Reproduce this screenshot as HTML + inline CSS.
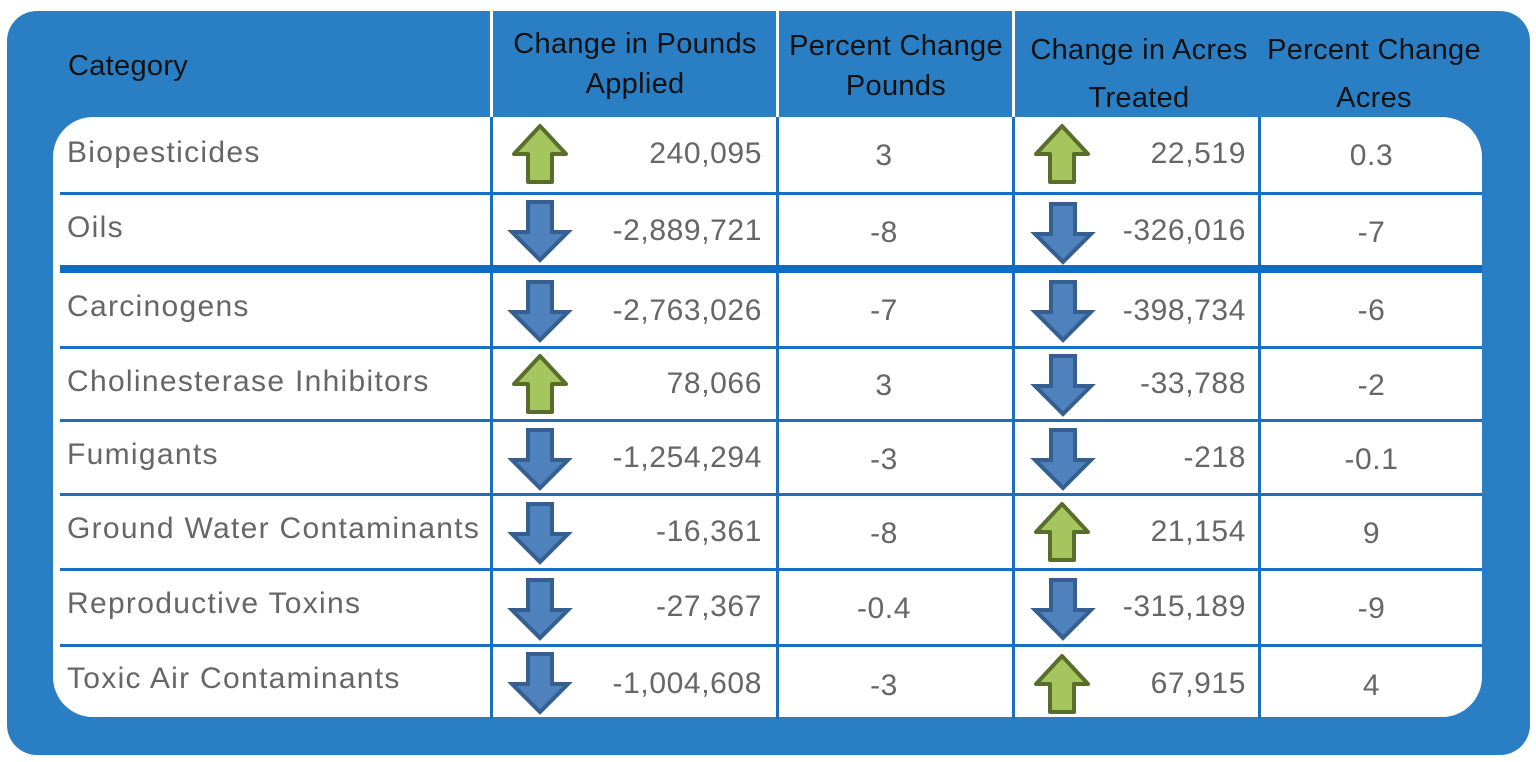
<!DOCTYPE html>
<html><head><style>
body{margin:0;width:1536px;height:762px;background:#fff;position:relative;overflow:hidden;font-family:"Liberation Sans",sans-serif}
.outer{position:absolute;left:7px;top:11px;width:1523px;height:744px;background:#2a7fc4;border-radius:30px}
.inner{position:absolute;left:53px;top:117px;width:1429px;height:600px;background:#fff;border-radius:40px}
.t{position:absolute;font-size:30px;color:#666;white-space:nowrap;line-height:1;letter-spacing:0.6px}
.c{letter-spacing:1.3px}
.h{position:absolute;font-size:29px;color:#111;white-space:nowrap;line-height:1;text-align:center;letter-spacing:0.3px}
.v{position:absolute;width:3px}
.hl{position:absolute;left:60px;width:1422px;height:3px;background:#1a6fc0}
</style></head><body>
<div class="outer"></div>
<div class="inner"></div>
<div class="v" style="left:490px;top:11px;height:106px;background:#fff"></div>
<div class="v" style="left:776px;top:11px;height:106px;background:#fff"></div>
<div class="v" style="left:1012px;top:11px;height:106px;background:#fff"></div>
<div class="v" style="left:490px;top:117px;height:602px;background:#1a6fc0"></div>
<div class="v" style="left:776px;top:117px;height:602px;background:#1a6fc0"></div>
<div class="v" style="left:1012px;top:117px;height:602px;background:#1a6fc0"></div>
<div class="v" style="left:1258px;top:117px;height:602px;background:#1a6fc0"></div>
<div class="hl" style="top:192px"></div>
<div class="hl" style="top:265px;height:8px;background:#0f6cbf"></div>
<div class="hl" style="top:346px"></div>
<div class="hl" style="top:419px"></div>
<div class="hl" style="top:493px"></div>
<div class="hl" style="top:568px"></div>
<div class="hl" style="top:644px"></div>

<div class="h" style="left:68px;top:52px;text-align:left">Category</div>
<div class="h" style="left:494px;top:24px;width:282px;line-height:40px">Change in Pounds<br>Applied</div>
<div class="h" style="left:780px;top:26px;width:232px;line-height:40px">Percent Change<br>Pounds</div>
<div class="h" style="left:1016px;top:26px;width:246px;line-height:48px">Change in Acres<br>Treated</div>
<div class="h" style="left:1256px;top:26px;width:236px;line-height:48px">Percent Change<br>Acres</div>

<svg width="1536" height="762" style="position:absolute;left:0;top:0">
<defs>
<g id="up"><path d="M28 2 L54 30 L40 30 L40 58 L16 58 L16 30 L2 30 Z" fill="#a5c65f" stroke="#5a6e2c" stroke-width="4" stroke-linejoin="round"/></g>
<g id="dn"><path d="M18 2 L42 2 L42 32 L58 32 L30 60 L2 32 L18 32 Z" fill="#4f81bd" stroke="#365f91" stroke-width="4" stroke-linejoin="miter"/></g>
</defs>
<use href="#up" x="512" y="124"/><use href="#up" x="1034" y="124"/>
<use href="#dn" x="510" y="200"/><use href="#dn" x="1033" y="202"/>
<use href="#dn" x="510" y="280"/><use href="#dn" x="1033" y="280"/>
<use href="#up" x="512" y="354"/><use href="#dn" x="1033" y="354"/>
<use href="#dn" x="510" y="428"/><use href="#dn" x="1033" y="428"/>
<use href="#dn" x="510" y="502"/><use href="#up" x="1034" y="502"/>
<use href="#dn" x="510" y="578"/><use href="#dn" x="1033" y="578"/>
<use href="#dn" x="510" y="652"/><use href="#up" x="1034" y="654"/>
</svg>

<div class="t c" style="left:67px;top:138px">Biopesticides</div>
<div class="t c" style="left:67px;top:213px">Oils</div>
<div class="t c" style="left:67px;top:292px">Carcinogens</div>
<div class="t c" style="left:67px;top:367px">Cholinesterase Inhibitors</div>
<div class="t c" style="left:67px;top:440px">Fumigants</div>
<div class="t c" style="left:67px;top:514px">Ground Water Contaminants</div>
<div class="t c" style="left:67px;top:589px">Reproductive Toxins</div>
<div class="t c" style="left:67px;top:664px">Toxic Air Contaminants</div>

<div style="position:absolute;left:580px;width:182px;top:0;text-align:right">
<div class="t" style="right:0;top:139px">240,095</div>
<div class="t" style="right:0;top:216px">-2,889,721</div>
<div class="t" style="right:0;top:296px">-2,763,026</div>
<div class="t" style="right:0;top:369px">78,066</div>
<div class="t" style="right:0;top:443px">-1,254,294</div>
<div class="t" style="right:0;top:517px">-16,361</div>
<div class="t" style="right:0;top:592px">-27,367</div>
<div class="t" style="right:0;top:669px">-1,004,608</div>
</div>
<div style="position:absolute;left:1100px;width:146px;top:0">
<div class="t" style="right:0;top:139px">22,519</div>
<div class="t" style="right:0;top:216px">-326,016</div>
<div class="t" style="right:0;top:296px">-398,734</div>
<div class="t" style="right:0;top:369px">-33,788</div>
<div class="t" style="right:0;top:443px">-218</div>
<div class="t" style="right:0;top:517px">21,154</div>
<div class="t" style="right:0;top:592px">-315,189</div>
<div class="t" style="right:0;top:669px">67,915</div>
</div>
<div style="position:absolute;left:779px;width:210px;top:0">
<div class="t" style="width:210px;text-align:center;top:141px">3</div>
<div class="t" style="width:210px;text-align:center;top:218px">-8</div>
<div class="t" style="width:210px;text-align:center;top:296px">-7</div>
<div class="t" style="width:210px;text-align:center;top:371px">3</div>
<div class="t" style="width:210px;text-align:center;top:445px">-3</div>
<div class="t" style="width:210px;text-align:center;top:519px">-8</div>
<div class="t" style="width:210px;text-align:center;top:594px">-0.4</div>
<div class="t" style="width:210px;text-align:center;top:671px">-3</div>
</div>
<div style="position:absolute;left:1261px;width:221px;top:0">
<div class="t" style="width:221px;text-align:center;top:141px">0.3</div>
<div class="t" style="width:221px;text-align:center;top:218px">-7</div>
<div class="t" style="width:221px;text-align:center;top:296px">-6</div>
<div class="t" style="width:221px;text-align:center;top:371px">-2</div>
<div class="t" style="width:221px;text-align:center;top:445px">-0.1</div>
<div class="t" style="width:221px;text-align:center;top:519px">9</div>
<div class="t" style="width:221px;text-align:center;top:594px">-9</div>
<div class="t" style="width:221px;text-align:center;top:671px">4</div>
</div>
</body></html>
